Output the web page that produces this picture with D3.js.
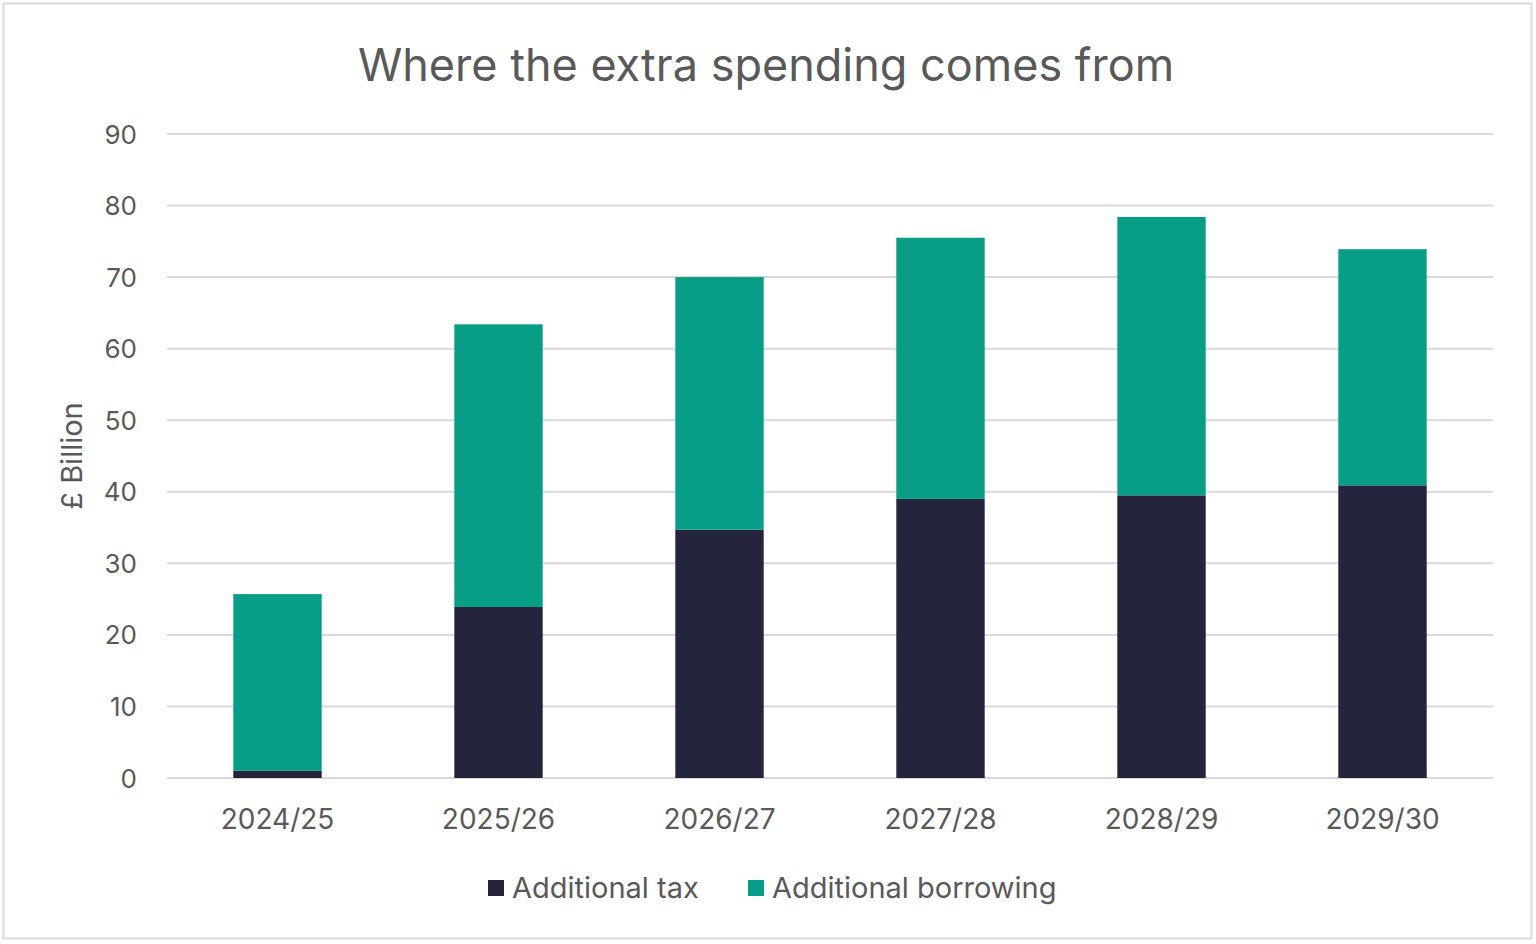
<!DOCTYPE html>
<html lang="en">
<head>
<meta charset="UTF-8">
<script src="https://cdn.jsdelivr.net/npm/d3@7"></script>
<style>
  body { margin: 0; background: #fff; }
  text { font-family: Inter, "Noto Sans", sans-serif; fill: #595959; }
</style>
</head>
<body>
<script>
var years = ["2024/25", "2025/26", "2026/27", "2027/28", "2028/29", "2029/30"];
var tax = [1.0, 23.9, 34.7, 39.0, 39.5, 40.9];
var borrowing = [24.7, 39.5, 35.3, 36.5, 38.9, 33.0];
var yTicks = [0, 10, 20, 30, 40, 50, 60, 70, 80, 90];
var seriesNames = ["Additional tax", "Additional borrowing"];
var colors = ["#24243c", "#069e84"];

var svg = d3.select("body").append("svg")
    .attr("width", 1536)
    .attr("height", 944);

// outer frame
svg.append("rect")
    .attr("x", 3.5).attr("y", 3.5)
    .attr("width", 1528).attr("height", 935)
    .attr("fill", "#fff")
    .attr("stroke", "#d9d9d9")
    .attr("stroke-width", 2);

var x = d3.scaleBand()
    .domain(years)
    .range([167, 1493])
    .paddingInner(0.6)
    .paddingOuter(0.3);

var y = d3.scaleLinear()
    .domain([0, 90])
    .range([778, 134]);

// gridlines
svg.append("g").selectAll("line")
    .data(yTicks)
    .enter().append("line")
    .attr("x1", 167).attr("x2", 1493)
    .attr("y1", function(d){ return y(d); })
    .attr("y2", function(d){ return y(d); })
    .attr("stroke", "#d9d9d9")
    .attr("stroke-width", 2);

// y axis labels
var yAxis = d3.axisLeft(y).tickValues(yTicks).tickSize(0).tickPadding(0);
var gy = svg.append("g")
    .attr("transform", "translate(137,0)")
    .call(yAxis);
gy.select(".domain").remove();
gy.selectAll("text")
    .style("font-size", "26px")
    .attr("fill", "#595959")
    .attr("dy", "0.35em");

// x axis labels
var xAxis = d3.axisBottom(x).tickSize(0).tickPadding(0);
var gx = svg.append("g")
    .attr("transform", "translate(0,809)")
    .call(xAxis);
gx.select(".domain").remove();
gx.selectAll("text")
    .style("font-size", "28px")
    .attr("fill", "#595959")
    .attr("dy", "0.71em");

// stacked bars
var rows = years.map(function(yr, i){ return {year: yr, tax: tax[i], borrowing: borrowing[i]}; });
var stack = d3.stack().keys(["tax", "borrowing"]);
var layers = stack(rows);

svg.append("g").selectAll("g")
    .data(layers)
    .enter().append("g")
    .attr("fill", function(d, i){ return colors[i]; })
    .selectAll("rect")
    .data(function(d){ return d; })
    .enter().append("rect")
    .attr("x", function(d){ return x(d.data.year); })
    .attr("width", x.bandwidth())
    .attr("y", function(d){ return y(d[1]); })
    .attr("height", function(d){ return y(d[0]) - y(d[1]); });

// title
svg.append("text")
    .attr("x", 766).attr("y", 81)
    .attr("text-anchor", "middle")
    .style("font-size", "45px")
    .text("Where the extra spending comes from");

// y axis title
svg.append("text")
    .attr("transform", "translate(82,456) rotate(-90)")
    .attr("text-anchor", "middle")
    .style("font-size", "29px")
    .text("£ Billion");

// legend
var legendX = [488, 748];
var leg = svg.append("g").selectAll("g")
    .data(seriesNames)
    .enter().append("g")
    .attr("transform", function(d, i){ return "translate(" + legendX[i] + ",880)"; });
leg.append("rect")
    .attr("width", 16).attr("height", 16)
    .attr("fill", function(d, i){ return colors[i]; });
leg.append("text")
    .attr("x", 24).attr("y", 8)
    .attr("dy", "0.35em")
    .style("font-size", "29px")
    .text(function(d){ return d; });
</script>
</body>
</html>
